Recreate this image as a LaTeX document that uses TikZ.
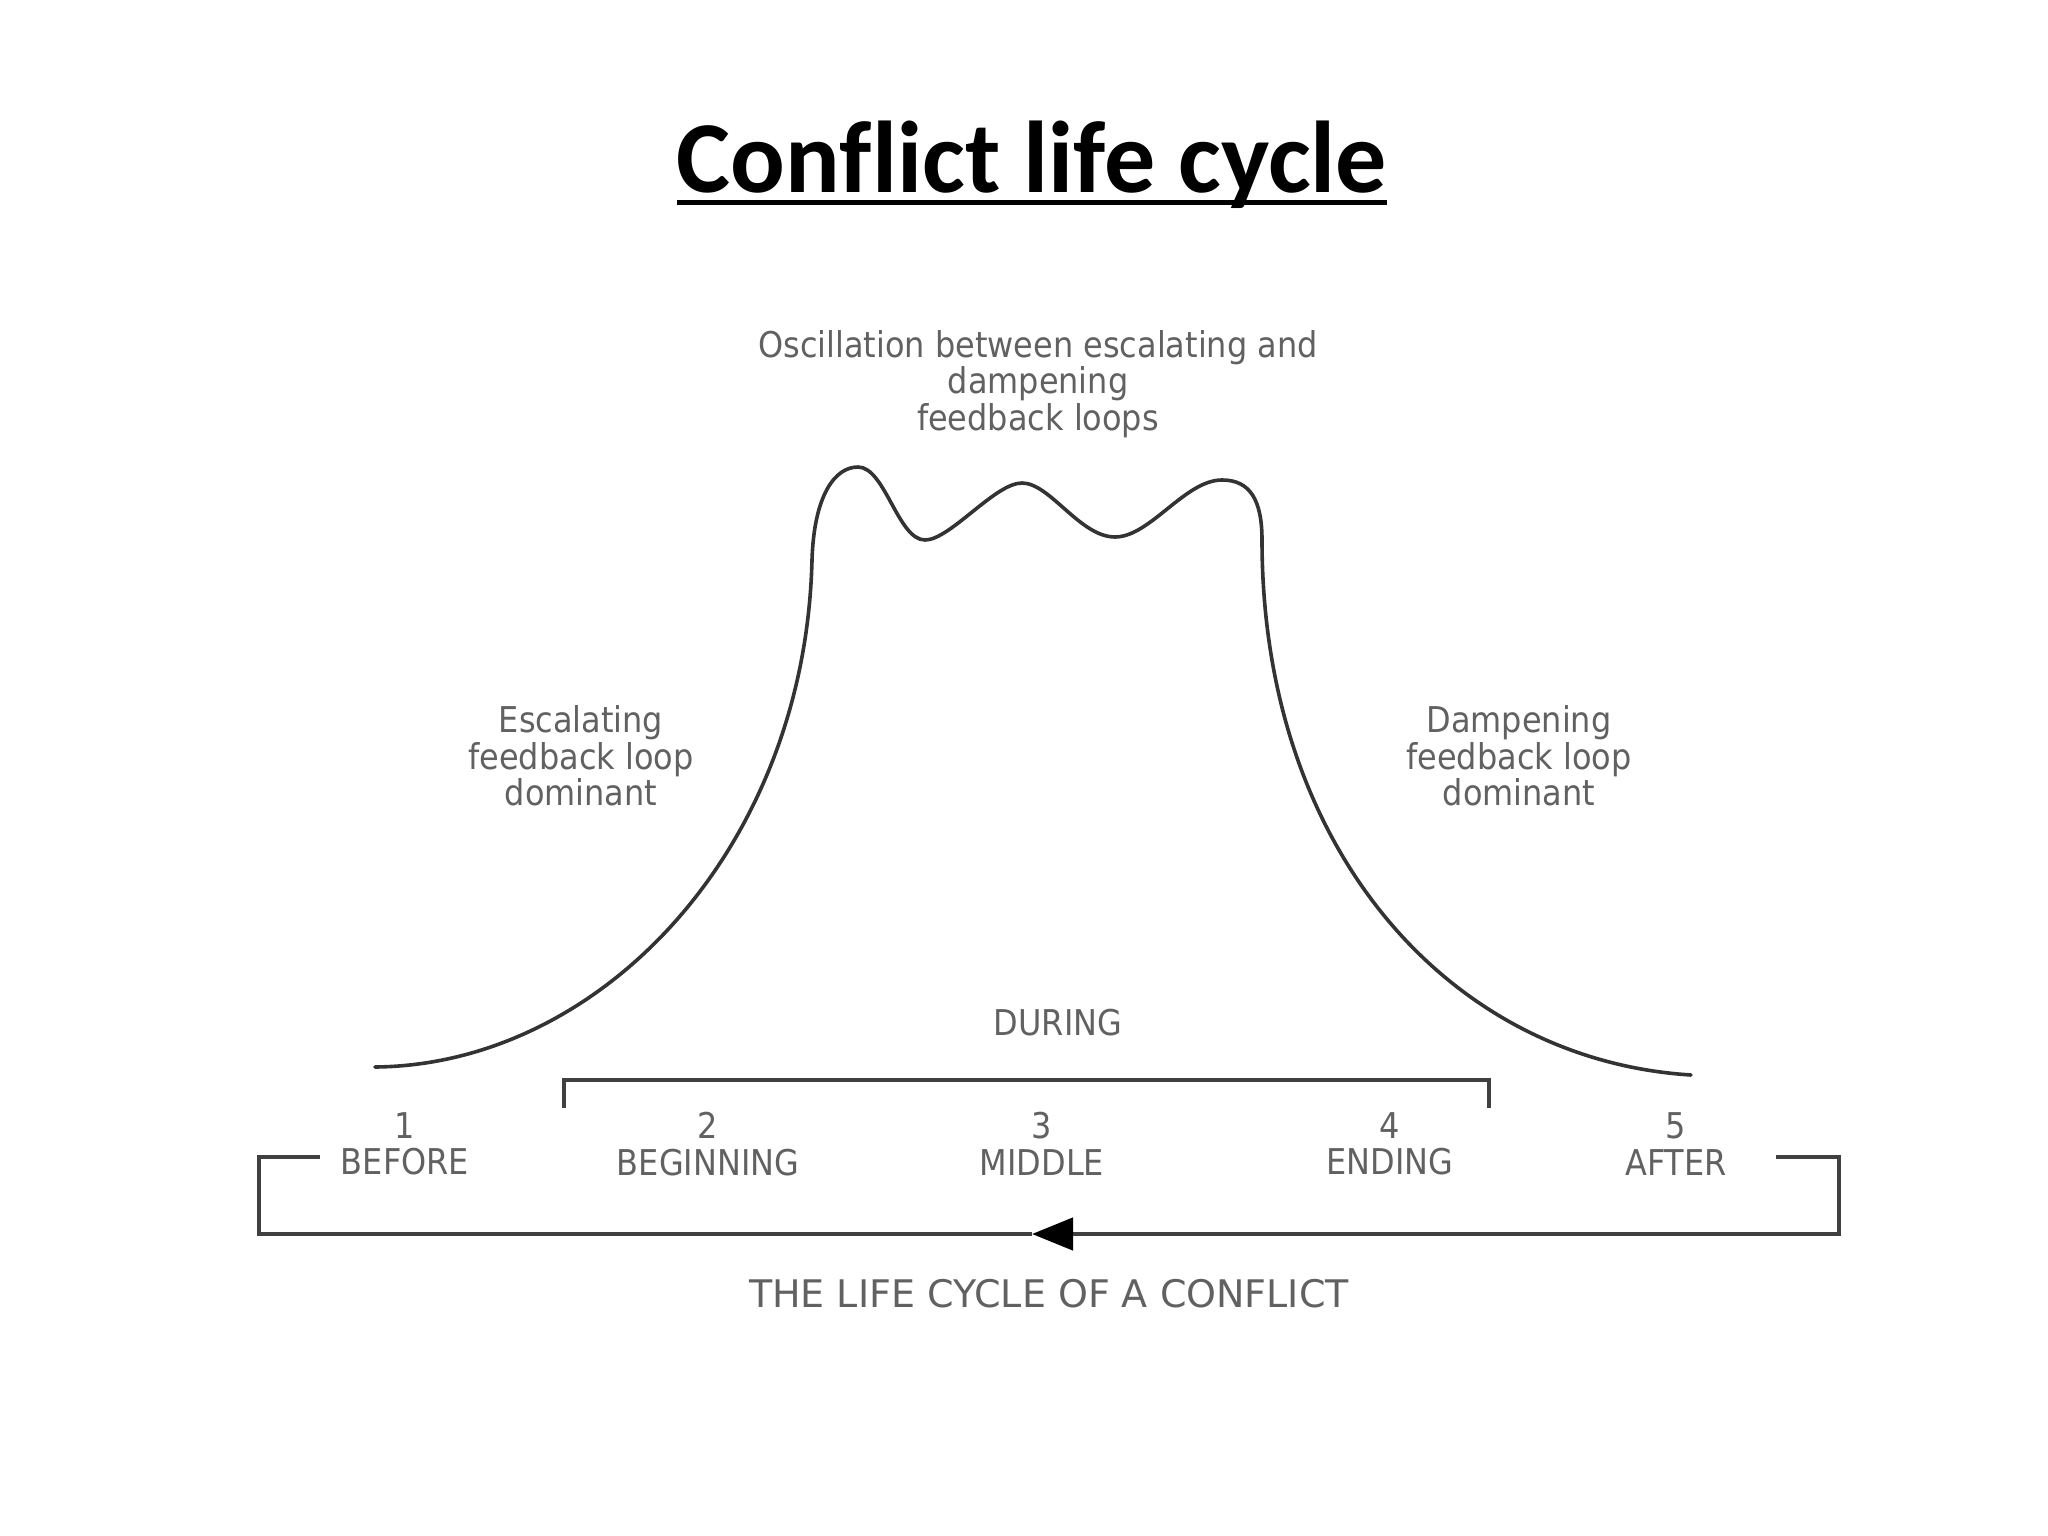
\documentclass[tikz,border=0pt]{standalone}
\usepackage{fontspec}
\usetikzlibrary{arrows.meta}
\newfontfamily\titlefont{Carlito}[Ligatures=NoCommon]
\newfontfamily\dfont{DejaVu Sans}[FakeStretch=0.9]
\newfontfamily\cfont{DejaVu Sans}
\tikzset{
  lbl/.style={text=black!62, font=\dfont\fontsize{35.5}{36.5}\selectfont, align=center, inner sep=0pt},
  capt/.style={text=black!62, font=\cfont\fontsize{38}{40}\selectfont, inner sep=0pt},
  curve/.style={draw=black!80, line width=3.6pt, line cap=round, line join=round},
  loopline/.style={draw=black!75, line width=4.5pt, line join=miter},
  brk/.style={draw=black!75, line width=4.5pt}
}
\begin{document}
\begin{tikzpicture}[x=1pt,y=-1pt]
\useasboundingbox[fill=white] (0,0) rectangle (2048,1536);
% title
\node[anchor=base, inner sep=0pt, font=\titlefont\bfseries\fontsize{102}{110}\selectfont] (title) at (1032,193) {Conflict life cycle};
\draw[line width=5pt] ([yshift=-9pt]title.base west) -- ([yshift=-9pt]title.base east);
% labels
\node[lbl] (osc) at (1038,384) {Oscillation between escalating and\\dampening\\feedback loops};
\node[lbl] (esc) at (581,756) {Escalating\\feedback loop\\dominant};
\node[lbl] (dam) at (1519,756) {Dampening\\feedback loop\\dominant};
\node[lbl] (during) at (1058,1023) {DURING};
\node[lbl] (before) at (405,1144) {1\\BEFORE};
\node[lbl] (beginning) at (708,1144) {2\\BEGINNING};
\node[lbl] (middle) at (1042,1144) {3\\MIDDLE};
\node[lbl] (ending) at (1390,1144) {4\\ENDING};
\node[lbl] (after) at (1676,1144) {5\\AFTER};
\node[capt] (caption) at (1049,1294) {THE LIFE CYCLE OF A CONFLICT};
% life-cycle curve
\draw[curve] (375,1067) .. controls (600,1065) and (805,850) .. (812,560)
  .. controls (814,495) and (835,467) .. (858,467)
  .. controls (885,467) and (898,540) .. (925,540)
  .. controls (950,540) and (995,483) .. (1022,483)
  .. controls (1050,483) and (1080,537) .. (1115,537)
  .. controls (1150,537) and (1185,480) .. (1222,480)
  .. controls (1250,480) and (1262,500) .. (1262,540)
  .. controls (1262,850) and (1450,1060) .. (1691,1075);
% DURING bracket
\coordinate (bl) at (564,1108);
\coordinate (br) at (1489,1108);
\draw[brk] (bl) -- (564,1080) -- (1489,1080) -- (br);
% feedback loop
\coordinate (loopR) at (1776,1157);
\coordinate (loopL) at (320,1157);
\coordinate (mid) at (1032,1234);
\draw[loopline, -{Triangle[length=41pt,width=32pt,fill=black,color=black]}] (loopR) -- (1839,1157) |- (mid);
\draw[loopline] (mid) -| (259,1157) -- (loopL);
\end{tikzpicture}
\end{document}
